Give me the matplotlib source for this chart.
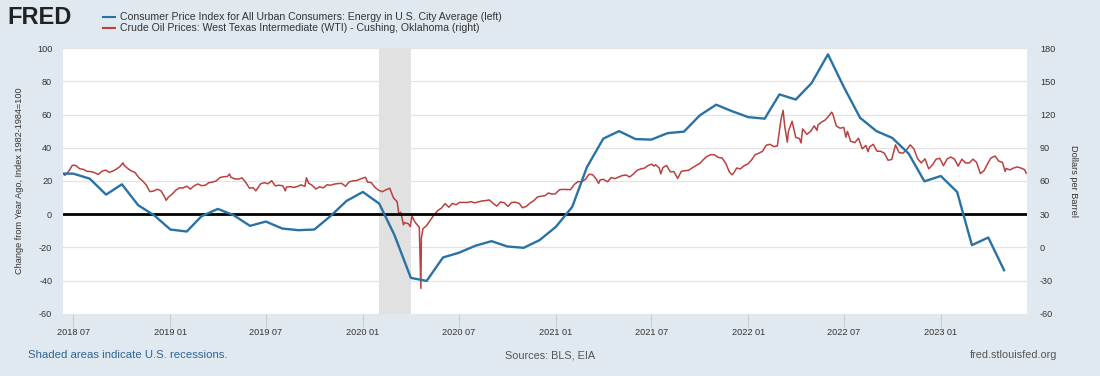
import numpy as np
import pandas as pd
import matplotlib
matplotlib.use("Agg")
import matplotlib.pyplot as plt
from matplotlib.lines import Line2D

plt.rcParams["font.family"] = ["Liberation Sans", "DejaVu Sans"]

# ---------------- DATA ----------------

# CPI energy, change from year ago (monthly, Jun 2018 .. May 2023)
cpi_start = "2018-06-01"
cpi_values = [
    24.5, 24.4, 21.4, 11.8, 18.0, 5.4, -0.6,
    -9.2, -10.4, -1.2, 3.2, -0.6, -7.0, -4.4, -8.6, -9.6, -9.2, -1.0, 8.0,
    13.4, 6.4, -12.6, -38.3, -40.1, -26.0, -23.2, -19.0, -16.2, -19.4, -20.2, -15.6,
    -7.6, 4.4, 28.4, 45.5, 50.0, 45.2, 44.9, 48.8, 49.7, 59.5, 65.9, 62.0,
    58.4, 57.5, 72.1, 69.0, 78.9, 96.2, 76.6, 58.0, 50.0, 45.9, 36.5, 19.8,
    23.0, 13.4, -18.6, -14.0, -33.7,
]

# WTI crude oil, dollars per barrel
wti_2018 = [
    ("2018-06-12", 66.4), ("2018-06-15", 65.1), ("2018-06-22", 68.6), ("2018-06-29", 74.1),
    ("2018-07-03", 74.2), ("2018-07-06", 73.8), ("2018-07-13", 71.0), ("2018-07-20", 70.5),
    ("2018-07-27", 68.7), ("2018-08-03", 68.5), ("2018-08-10", 67.6), ("2018-08-17", 65.9),
    ("2018-08-24", 68.7), ("2018-08-31", 69.8), ("2018-09-07", 67.8), ("2018-09-14", 69.0),
    ("2018-09-21", 70.8), ("2018-09-28", 73.3), ("2018-10-03", 76.4), ("2018-10-05", 74.3),
    ("2018-10-12", 71.3), ("2018-10-19", 69.1), ("2018-10-26", 67.6), ("2018-11-02", 63.1),
    ("2018-11-09", 60.2), ("2018-11-16", 56.5), ("2018-11-23", 50.4), ("2018-11-30", 50.9),
    ("2018-12-07", 52.6), ("2018-12-14", 51.2), ("2018-12-21", 45.6), ("2018-12-24", 42.5),
    ("2018-12-28", 45.3),
]
wti_2019 = [
    ("2019-01-04", 48.0), ("2019-01-11", 51.6), ("2019-01-18", 53.8), ("2019-01-25", 53.7),
    ("2019-02-01", 55.3), ("2019-02-08", 52.7), ("2019-02-15", 55.6), ("2019-02-22", 57.3),
    ("2019-03-01", 55.8), ("2019-03-08", 56.1), ("2019-03-15", 58.5), ("2019-03-22", 59.0),
    ("2019-03-29", 60.1), ("2019-04-05", 63.1), ("2019-04-12", 63.9), ("2019-04-19", 64.0),
    ("2019-04-23", 66.3), ("2019-04-26", 63.3), ("2019-05-03", 61.9), ("2019-05-10", 61.7),
    ("2019-05-17", 62.8), ("2019-05-24", 58.6), ("2019-05-31", 53.5), ("2019-06-07", 54.0),
    ("2019-06-12", 51.1), ("2019-06-14", 52.5), ("2019-06-21", 57.4), ("2019-06-28", 58.5),
    ("2019-07-05", 57.5), ("2019-07-12", 60.2), ("2019-07-19", 55.6), ("2019-07-26", 56.2),
    ("2019-08-02", 55.7), ("2019-08-07", 51.1), ("2019-08-09", 54.5), ("2019-08-16", 54.9),
    ("2019-08-23", 54.2), ("2019-08-30", 55.1), ("2019-09-06", 56.5), ("2019-09-13", 55.1),
    ("2019-09-16", 62.9), ("2019-09-20", 58.1), ("2019-09-27", 56.0), ("2019-10-04", 52.8),
    ("2019-10-11", 54.7), ("2019-10-18", 53.8), ("2019-10-25", 56.6), ("2019-11-01", 56.2),
    ("2019-11-08", 57.2), ("2019-11-15", 57.7), ("2019-11-22", 57.8), ("2019-11-29", 55.2),
    ("2019-12-06", 59.2), ("2019-12-13", 60.1), ("2019-12-20", 60.4), ("2019-12-27", 61.7),
]
wti_2020 = [
    ("2020-01-03", 63.0), ("2020-01-06", 63.3), ("2020-01-10", 59.0), ("2020-01-17", 58.5),
    ("2020-01-24", 54.2), ("2020-01-31", 51.6), ("2020-02-07", 50.3), ("2020-02-14", 52.1),
    ("2020-02-21", 53.4), ("2020-02-28", 44.8), ("2020-03-06", 41.3), ("2020-03-09", 31.1),
    ("2020-03-13", 31.7), ("2020-03-18", 20.4), ("2020-03-20", 22.4), ("2020-03-27", 21.5),
    ("2020-03-31", 18.8), ("2020-04-03", 28.3), ("2020-04-09", 22.8), ("2020-04-17", 18.3),
    ("2020-04-20", -37.0), ("2020-04-21", 8.9), ("2020-04-24", 16.9), ("2020-05-01", 19.8),
    ("2020-05-08", 24.7), ("2020-05-15", 29.4), ("2020-05-22", 33.3), ("2020-05-29", 35.5),
    ("2020-06-05", 39.6), ("2020-06-12", 36.3), ("2020-06-19", 39.8), ("2020-06-26", 38.5),
    ("2020-07-02", 40.7), ("2020-07-10", 40.6), ("2020-07-17", 40.6), ("2020-07-24", 41.3),
    ("2020-07-31", 40.3), ("2020-08-07", 41.2), ("2020-08-14", 42.0), ("2020-08-21", 42.3),
    ("2020-08-28", 42.9), ("2020-09-04", 39.8), ("2020-09-11", 37.3), ("2020-09-18", 41.1),
    ("2020-09-25", 40.3), ("2020-10-02", 37.1), ("2020-10-09", 40.6), ("2020-10-16", 40.9),
    ("2020-10-23", 39.9), ("2020-10-30", 35.8), ("2020-11-06", 37.1), ("2020-11-13", 40.1),
    ("2020-11-20", 42.2), ("2020-11-27", 45.5), ("2020-12-04", 46.3), ("2020-12-11", 46.6),
    ("2020-12-18", 49.2), ("2020-12-24", 48.2), ("2020-12-31", 48.4),
]
wti_2021 = [
    ("2021-01-08", 52.2), ("2021-01-15", 52.4), ("2021-01-22", 52.3), ("2021-01-29", 52.2),
    ("2021-02-05", 56.9), ("2021-02-12", 59.5), ("2021-02-19", 59.2), ("2021-02-26", 61.5),
    ("2021-03-05", 66.1), ("2021-03-12", 65.6), ("2021-03-19", 61.4), ("2021-03-23", 57.8),
    ("2021-03-26", 61.0), ("2021-04-01", 61.5), ("2021-04-09", 59.3), ("2021-04-16", 63.1),
    ("2021-04-23", 62.1), ("2021-04-30", 63.6), ("2021-05-07", 64.9), ("2021-05-14", 65.4),
    ("2021-05-21", 63.6), ("2021-05-28", 66.3), ("2021-06-04", 69.6), ("2021-06-11", 70.9),
    ("2021-06-18", 71.6), ("2021-06-25", 74.0), ("2021-07-02", 75.2), ("2021-07-06", 73.4),
    ("2021-07-09", 74.6), ("2021-07-16", 71.8), ("2021-07-19", 66.4), ("2021-07-23", 72.1),
    ("2021-07-30", 74.0), ("2021-08-06", 68.3), ("2021-08-13", 68.4), ("2021-08-20", 62.3),
    ("2021-08-27", 68.7), ("2021-09-03", 69.3), ("2021-09-10", 69.7), ("2021-09-17", 72.0),
    ("2021-09-24", 74.0), ("2021-10-01", 75.9), ("2021-10-08", 79.4), ("2021-10-15", 82.3),
    ("2021-10-22", 83.8), ("2021-10-29", 83.6), ("2021-11-05", 81.3), ("2021-11-12", 80.8),
    ("2021-11-19", 76.1), ("2021-11-26", 68.2), ("2021-12-01", 65.6), ("2021-12-03", 66.3),
    ("2021-12-10", 71.7), ("2021-12-17", 70.9), ("2021-12-24", 73.8), ("2021-12-31", 75.3),
]
wti_2022 = [
    ("2022-01-07", 78.9), ("2022-01-14", 83.8), ("2022-01-21", 85.1), ("2022-01-28", 86.8),
    ("2022-02-04", 92.3), ("2022-02-11", 93.1), ("2022-02-18", 91.1), ("2022-02-25", 91.6),
    ("2022-03-04", 115.7), ("2022-03-08", 123.7), ("2022-03-11", 109.3), ("2022-03-16", 95.0),
    ("2022-03-18", 104.7), ("2022-03-25", 113.9), ("2022-04-01", 99.3), ("2022-04-08", 98.3),
    ("2022-04-11", 94.3), ("2022-04-14", 107.0), ("2022-04-22", 102.1), ("2022-04-29", 104.7),
    ("2022-05-06", 109.8), ("2022-05-11", 105.7), ("2022-05-13", 110.5), ("2022-05-20", 113.2),
    ("2022-05-27", 115.1), ("2022-06-03", 118.9), ("2022-06-08", 122.1), ("2022-06-10", 120.7),
    ("2022-06-17", 109.6), ("2022-06-24", 107.6), ("2022-07-01", 108.4), ("2022-07-05", 99.5),
    ("2022-07-08", 104.8), ("2022-07-14", 95.8), ("2022-07-22", 94.7), ("2022-07-29", 98.6),
    ("2022-08-05", 89.0), ("2022-08-12", 92.1), ("2022-08-16", 86.5), ("2022-08-19", 90.8),
    ("2022-08-26", 93.1), ("2022-09-02", 86.9), ("2022-09-09", 86.8), ("2022-09-16", 85.1),
    ("2022-09-23", 78.7), ("2022-09-30", 79.5), ("2022-10-07", 92.6), ("2022-10-14", 85.6),
    ("2022-10-21", 85.1), ("2022-10-28", 87.9), ("2022-11-04", 92.6), ("2022-11-11", 89.0),
    ("2022-11-18", 80.1), ("2022-11-25", 76.3), ("2022-12-02", 80.0), ("2022-12-09", 71.0),
    ("2022-12-16", 74.3), ("2022-12-23", 79.6), ("2022-12-30", 80.5),
]
wti_2023 = [
    ("2023-01-06", 73.8), ("2023-01-13", 79.9), ("2023-01-20", 81.6), ("2023-01-27", 79.7),
    ("2023-02-03", 73.4), ("2023-02-10", 79.7), ("2023-02-17", 76.3), ("2023-02-24", 76.3),
    ("2023-03-03", 79.7), ("2023-03-10", 76.7), ("2023-03-17", 66.7), ("2023-03-24", 69.3),
    ("2023-03-31", 75.7), ("2023-04-06", 80.7), ("2023-04-14", 82.5), ("2023-04-21", 77.9),
    ("2023-04-28", 76.8), ("2023-05-03", 68.6), ("2023-05-05", 71.3), ("2023-05-12", 70.0),
    ("2023-05-19", 71.7), ("2023-05-26", 72.7), ("2023-06-02", 71.7), ("2023-06-09", 70.2),
    ("2023-06-12", 67.1),
]

left_ticks = [-60, -40, -20, 0, 20, 40, 60, 80, 100]
right_ticks = [-60, -30, 0, 30, 60, 90, 120, 150, 180]
x_ticks = ["2018-07", "2019-01", "2019-07", "2020-01", "2020-07",
           "2021-01", "2021-07", "2022-01", "2022-07", "2023-01"]
recession = ("2020-02-01", "2020-04-01")

# ---------------- PREP ----------------

cpi = pd.Series(cpi_values,
                index=pd.date_range(cpi_start, periods=len(cpi_values), freq="MS"))
wti_rows = wti_2018 + wti_2019 + wti_2020 + wti_2021 + wti_2022 + wti_2023
wti = pd.Series([v for _, v in wti_rows],
                index=pd.to_datetime([d for d, _ in wti_rows]))

BG = "#e1e9f0"
BLUE = "#2a72a3"
RED = "#b9413f"
TXT = "#333333"
FS = 6.6

# ---------------- FIGURE ----------------

fig = plt.figure(figsize=(11, 3.76), dpi=100)
fig.patch.set_facecolor(BG)
# ax2 (right axis, oil) sits behind, ax (left axis, CPI) on top
ax2 = fig.add_axes([0.0576, 0.165, 0.8758, 0.7073])
ax = ax2.twinx()
ax2.set_facecolor("white")
ax.patch.set_visible(False)

ax2.set_xlim(pd.Timestamp("2018-06-12"), pd.Timestamp("2023-06-13"))
ax.set_ylim(-60, 100)
ax2.set_ylim(-60, 180)

# recession shading and grid on the back axes
ax2.axvspan(pd.Timestamp(recession[0]), pd.Timestamp(recession[1]),
            color="#e1e1e1", zorder=0, lw=0)
for t in right_ticks:
    ax2.axhline(t, color="#e3e3e3", lw=0.9, zorder=0.5)

# series
ax2.plot(wti.index, wti.values, color=RED, lw=1.1, zorder=4)
ax.axhline(0, color="black", lw=2, zorder=3)
ax.plot(cpi.index, cpi.values, color=BLUE, lw=1.7, zorder=4)

# left axis labels live on ax (twinx puts them right) -> swap sides
ax.yaxis.tick_left()
ax.yaxis.set_label_position("left")
ax2.yaxis.tick_right()
ax2.yaxis.set_label_position("right")

ax.set_yticks(left_ticks)
ax.set_yticklabels([str(t) for t in left_ticks])
ax2.set_yticks(right_ticks)
ax2.set_yticklabels([str(t) for t in right_ticks])
ax2.set_xticks([pd.Timestamp(t) for t in x_ticks])
ax2.set_xticklabels([t.replace("-", " ") for t in x_ticks])

ax.tick_params(axis="y", length=0, pad=8, labelsize=FS, labelcolor=TXT)
ax2.tick_params(axis="y", length=0, pad=9.5, labelsize=FS, labelcolor=TXT)
ax2.tick_params(axis="x", length=9, width=0.8, color="#cccccc", pad=1,
                labelsize=FS, labelcolor=TXT)

for a in (ax, ax2):
    for s in a.spines.values():
        s.set_visible(False)

ax.set_ylabel("Change from Year Ago, Index 1982-1984=100",
              fontsize=FS, color=TXT, labelpad=9)
ax2.set_ylabel("Dollars per Barrel", fontsize=FS, color=TXT,
               rotation=270, labelpad=16)

# ---------------- HEADER ----------------

fig.text(0.007, 0.953, "FRED", fontsize=17, fontweight="bold",
         color="#222222", va="center", ha="left")
fig.add_artist(Line2D([0.0936, 0.1045], [0.956, 0.956], color=BLUE, lw=1.5))
fig.add_artist(Line2D([0.0936, 0.1045], [0.925, 0.925], color=RED, lw=1.5))
fig.text(0.109, 0.956,
         "Consumer Price Index for All Urban Consumers: Energy in U.S. City Average (left)",
         fontsize=7.6, color=TXT, va="center")
fig.text(0.109, 0.925,
         "Crude Oil Prices: West Texas Intermediate (WTI) - Cushing, Oklahoma (right)",
         fontsize=7.6, color=TXT, va="center")

# ---------------- FOOTER ----------------

fig.text(0.0255, 0.055, "Shaded areas indicate U.S. recessions.",
         fontsize=8.2, color="#2e6497", va="center")
fig.text(0.5, 0.055, "Sources: BLS, EIA", fontsize=7.8, color="#555555",
         va="center", ha="center")
fig.text(0.961, 0.055, "fred.stlouisfed.org", fontsize=7.8, color="#555555",
         va="center", ha="right")

fig.savefig("out.png", dpi=100, facecolor=BG)
